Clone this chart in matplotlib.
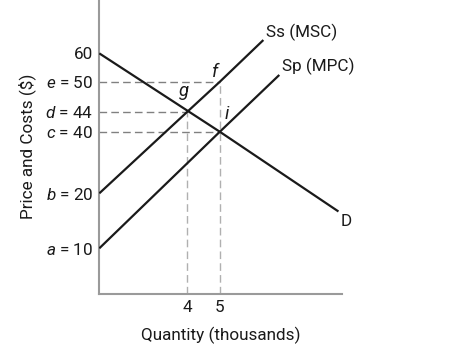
import numpy as np
import matplotlib
matplotlib.use("Agg")
import matplotlib.pyplot as plt

plt.rcParams['font.family'] = ['Roboto', 'DejaVu Sans']
plt.rcParams['mathtext.fontset'] = 'custom'
plt.rcParams['mathtext.rm'] = 'Roboto'
plt.rcParams['mathtext.it'] = 'Roboto:italic'

# curves (quantity in thousands, price in $)
demand_q = [0, 5, 8.65]
demand_p = [60, 40, 16.7]
msc_q = [0, 4, 5, 6.34]
msc_p = [20, 44, 50, 64.7]
mpc_q = [0, 5, 6.83]
mpc_p = [10, 40, 52.4]

# labelled points
point_names = ['f', 'g', 'i']
point_q = [5, 4, 5]
point_p = [50, 44, 40]

ytick_vals = [10, 20, 40, 44, 50, 60]
ytick_labels = [r'$a$ = 10', r'$b$ = 20', r'$c$ = 40', r'$d$ = 44', r'$e$ = 50', '60']
xtick_vals = [4, 5]

# the diagram is schematic, so the axes are stretched piecewise
xk_data = [0, 4, 5, 9]
xk_draw = [0, 88, 120.5, 250.5]
yk_data = [0, 10, 20, 40, 44, 50, 60, 80]
yk_draw = [0, 45.2, 100.2, 161.8, 181.8, 211.8, 240.2, 297]

fig = plt.figure(figsize=(4.74, 3.51), dpi=100)
ax = fig.add_axes([0.2095, 0.1638, 0.5114, 0.8362])
ax.set_xscale('function', functions=(lambda v: np.interp(v, xk_data, xk_draw),
                                     lambda v: np.interp(v, xk_draw, xk_data)))
ax.set_yscale('function', functions=(lambda v: np.interp(v, yk_data, yk_draw),
                                     lambda v: np.interp(v, yk_draw, yk_data)))
ax.set_xlim(0, 8.75)
ax.set_ylim(0, 78.8)

dash = (0, (5.5, 3))
# horizontal guides from the price axis
for q, p in zip(point_q, point_p):
    ax.plot([0, q], [p, p], color='#808080', lw=1, ls=dash, zorder=1)
# vertical guides down to the quantity axis
ax.plot([4, 4], [0, 44], color='#b0b0b0', lw=1, ls=dash, zorder=1)
ax.plot([5, 5], [0, 50], color='#b0b0b0', lw=1, ls=dash, zorder=1)

ax.plot(demand_q, demand_p, color='#1a1a1a', lw=1.6, solid_capstyle='butt', zorder=3)
ax.plot(msc_q, msc_p, color='#1a1a1a', lw=1.6, solid_capstyle='butt', zorder=3)
ax.plot(mpc_q, mpc_p, color='#1a1a1a', lw=1.6, solid_capstyle='butt', zorder=3)

fs = 12.3
txt = '#1a1a1a'
offsets = {'f': (-4, 10.5), 'g': (-4, 19), 'i': (7, 18)}
for name, q, p in zip(point_names, point_q, point_p):
    ax.annotate('$' + name + '$', (q, p), xytext=offsets[name], textcoords='offset pixels',
                ha='center', va='center', fontsize=fs + 1, color=txt)

ax.annotate('Ss (MSC)', (msc_q[-1], msc_p[-1]), xytext=(3, 8), textcoords='offset pixels',
            ha='left', va='center', fontsize=fs, color=txt, annotation_clip=False)
ax.annotate('Sp (MPC)', (mpc_q[-1], mpc_p[-1]), xytext=(3, 9), textcoords='offset pixels',
            ha='left', va='center', fontsize=fs, color=txt, annotation_clip=False)
ax.annotate('D', (demand_q[-1], demand_p[-1]), xytext=(2, -10), textcoords='offset pixels',
            ha='left', va='center', fontsize=fs, color=txt, annotation_clip=False)

ax.set_yticks(ytick_vals)
ax.set_yticklabels(ytick_labels)
ax.set_xticks(xtick_vals)
ax.set_xticklabels([str(v) for v in xtick_vals])
ax.minorticks_off()
ax.tick_params(axis='both', length=0, labelsize=fs, colors=txt)
ax.tick_params(axis='y', pad=4.3)
ax.tick_params(axis='x', pad=5)

for side in ['top', 'right']:
    ax.spines[side].set_visible(False)
for side in ['left', 'bottom']:
    ax.spines[side].set_color('#9a9a9a')
    ax.spines[side].set_linewidth(1.5)

fig.text(27 / 474, 1 - 146 / 351, 'Price and Costs ($)', rotation=90,
         ha='center', va='center', fontsize=fs, color=txt)
fig.text(220.5 / 474, 1 - 335 / 351, 'Quantity (thousands)',
         ha='center', va='center', fontsize=fs, color=txt)

fig.savefig('out.png', dpi=100)
